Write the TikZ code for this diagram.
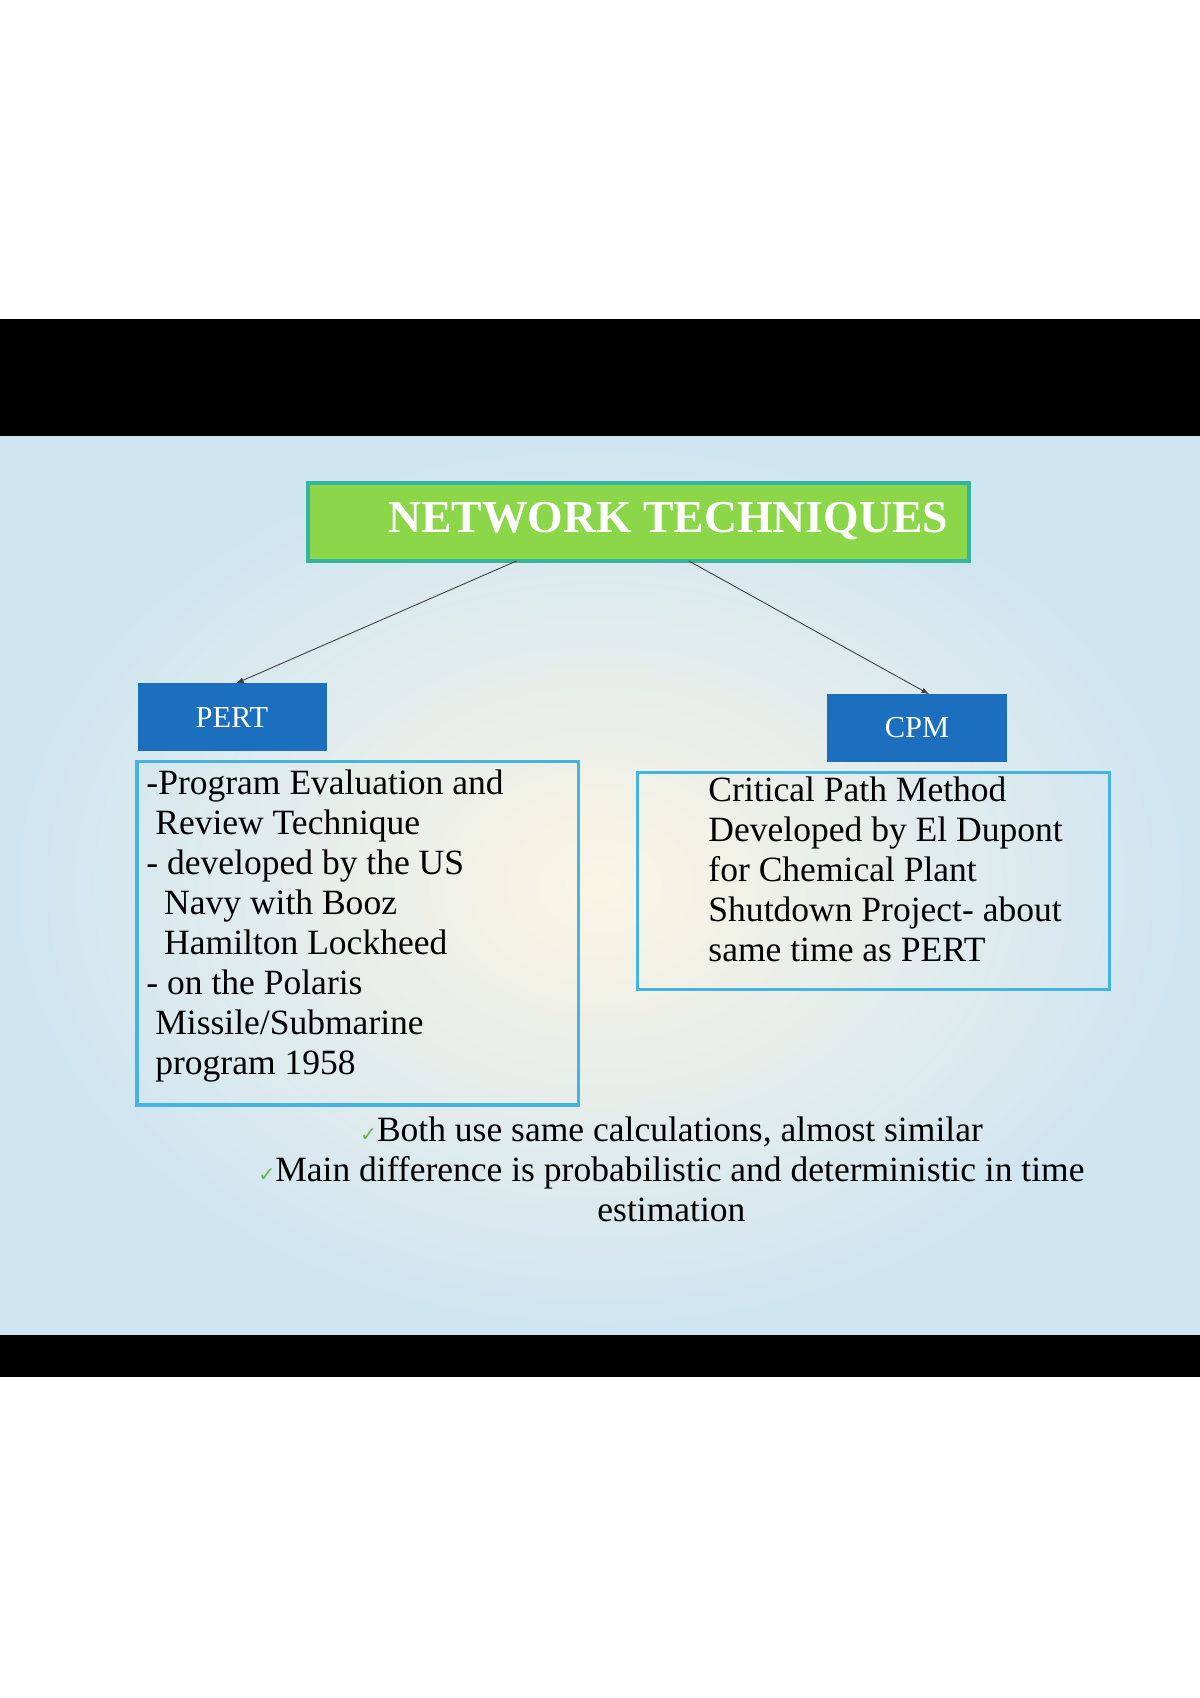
\documentclass[tikz,border=0pt]{standalone}
\usepackage{fontspec}
\usetikzlibrary{arrows.meta}
\setmainfont{Liberation Serif}
\newfontfamily\symf{DejaVu Sans}
\definecolor{tealb}{HTML}{35B5A0}
\definecolor{greenf}{HTML}{8CD64A}
\definecolor{blueb}{HTML}{1B6FBE}
\definecolor{lblue}{HTML}{45B4E2}
\definecolor{creamc}{HTML}{FBF5E4}
\definecolor{skyc}{HTML}{CFE5F2}
\definecolor{chk}{HTML}{6DB33F}
\begin{document}
\begin{tikzpicture}[x=0.03cm,y=-0.03cm,
  hdr/.style={draw=blueb,fill=blueb,text=white,font=\fontsize{24}{28}\selectfont,inner sep=0pt},
  txtbox/.style={draw=lblue,line width=2.5pt},
  body/.style={font=\fontsize{28}{31.5}\selectfont,align=left,anchor=north west,inner sep=0pt},
  conn/.style={-{Latex[length=6pt]},draw=black!75,line width=0.7pt}]
\useasboundingbox (0,0) rectangle (1108,1568);
\fill[white] (0,0) rectangle (1108,1568);
\fill[black] (0,295) rectangle (1108,403);
\shade[inner color=creamc,outer color=skyc] (0,403) rectangle (1108,1233);
\fill[black] (0,1233) rectangle (1108,1272);
\node[draw=tealb,line width=3pt,fill=greenf,minimum width=610*0.03cm,minimum height=72*0.03cm,anchor=north west] (title) at (283,444) {};
\node[text=white,font=\fontsize{36}{40}\selectfont\bfseries] (ttext) at (617,481) {NETWORK TECHNIQUES};
\node[hdr,minimum width=174*0.03cm,minimum height=62*0.03cm,anchor=north west] (pert) at (127,631) {PERT};
\node[hdr,minimum width=165*0.03cm,minimum height=62*0.03cm,anchor=north west] (cpm) at (764,641) {CPM};
\coordinate (t1) at (477,518); \coordinate (t2) at (636,518);
\coordinate (p1) at (218,631); \coordinate (c1) at (858,641);
\draw[conn] (t1) -- (p1);
\draw[conn] (t2) -- (c1);
\node[txtbox,minimum width=408*0.03cm,minimum height=317*0.03cm,anchor=north west] (pb) at (125,702) {};
\node[txtbox,minimum width=436*0.03cm,minimum height=200*0.03cm,anchor=north west] (cb) at (587,712) {};
\node[body] (ptext) at (135,711) {-Program Evaluation and\\ \ Review Technique\\- developed by the US\\ \ \ Navy with Booz\\ \ \ Hamilton Lockheed\\- on the Polaris\\ \ Missile/Submarine\\ \ program 1958};
\node[body] (ctext) at (654,717) {Critical Path Method\\Developed by El Dupont\\for Chemical Plant\\Shutdown Project- about\\same time as PERT};
\node[font=\fontsize{28}{31.5}\selectfont,align=center,inner sep=0pt] (btm) at (620,1080) {{\symf\color{chk}\fontsize{16}{16}\selectfont✓}Both use same calculations, almost similar\\{\symf\color{chk}\fontsize{16}{16}\selectfont✓}Main difference is probabilistic and deterministic in time\\estimation};
\end{tikzpicture}
\end{document}
